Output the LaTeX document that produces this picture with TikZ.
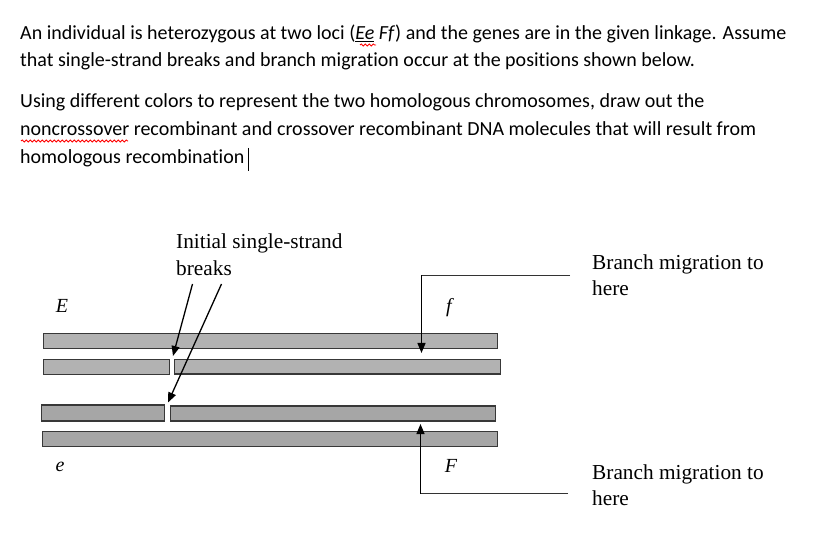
\documentclass[tikz,border=0pt]{standalone}
\usepackage{fontspec}
\setmainfont{Liberation Serif}
\newfontfamily\calib[Ligatures=NoCommon]{Carlito}
\usetikzlibrary{arrows.meta,decorations.pathmorphing}
\tikzset{
  bar/.style={draw=black!78, fill=black!30, line width=1.4pt},
  bardark/.style={draw=black!78, fill=black!35, line width=1.4pt},
  qtext/.style={anchor=base west, inner sep=0pt, font=\calib\fontsize{20}{24}\selectfont},
  stext/.style={anchor=base west, inner sep=0pt, font=\fontsize{21.3}{24}\selectfont},
  gene/.style={anchor=base, inner sep=0pt, font=\fontsize{20}{24}\selectfont\itshape},
  ptr/.style={line width=1.3pt, -{Triangle[length=10pt,width=8pt]}},
  leader/.style={line width=0.9pt, draw=black!80},
  wave/.style={draw=red, line width=0.8pt, decorate, decoration={snake, amplitude=1.1pt, segment length=4pt}}
}
\begin{document}
\begin{tikzpicture}[x=1pt,y=-1pt]
\useasboundingbox (0,0) rectangle (830,534);
% question text
\node[qtext] (q1) at (20,39.5) {An individual is heterozygous at two loci (\underline{\textit{Ee}} \textit{Ff}) and the genes are in the given linkage. Assume};
\node[qtext] (q2) at (20,67) {that single-strand breaks and branch migration occur at the positions shown below.};
\node[qtext] (q3) at (20,108) {Using different colors to represent the two homologous chromosomes, draw out the};
\node[qtext] (q4) at (20,136) {noncrossover recombinant and crossover recombinant DNA molecules that will result from};
\node[qtext] (q5) at (20,164) {homologous recombination};
\coordinate (w1a) at (21,141); \coordinate (w1b) at (128,141);
\draw[wave] (w1a) -- (w1b);
\coordinate (w2a) at (360,45); \coordinate (w2b) at (376,45);
\draw[wave] (w2a) -- (w2b);
\coordinate (cur1) at ([xshift=4pt]q5.base east);
\draw[line width=0.8pt] ([yshift=16pt]cur1) -- ([yshift=-7pt]cur1);
% bars
\node[bar, inner sep=0pt, minimum width=454pt, minimum height=15pt, anchor=north west] (b1) at (43,333) {};
\node[bar, inner sep=0pt, minimum width=126pt, minimum height=15pt, anchor=north west] (b2l) at (43,359) {};
\node[bar, inner sep=0pt, minimum width=326pt, minimum height=14.5pt, anchor=north west] (b2r) at (173.5,359) {};
\node[bardark, inner sep=0pt, minimum width=122.5pt, minimum height=16pt, anchor=north west] (b3l) at (41,404.5) {};
\node[bardark, inner sep=0pt, minimum width=325pt, minimum height=15pt, anchor=north west] (b3r) at (170,405.5) {};
\node[bardark, inner sep=0pt, minimum width=454.5pt, minimum height=15pt, anchor=north west] (b4) at (42,431) {};
% labels
\node[stext] (init1) at (176,249) {Initial single-strand};
\node[stext] (init2) at (176,276) {breaks};
\node[gene] (gE) at (62,313) {E};
\node[gene] (ge) at (60,471) {e};
\node[gene] (gf) at (449,313) {f};
\node[gene] (gF) at (451,472) {F};
\node[stext] (bm1) at (592,270) {Branch migration to};
\node[stext] (bm1b) at (592,296) {here};
\node[stext] (bm2) at (592,479) {Branch migration to};
\node[stext] (bm2b) at (592,505) {here};
% break arrows
\coordinate (a1s) at (192.5,284); \coordinate (a1e) at (173,356);
\coordinate (a2s) at (221.5,284); \coordinate (a2e) at (168,402.5);
\draw[ptr] (a1s) -- (a1e);
\draw[ptr] (a2s) -- (a2e);
% branch migration arrows
\coordinate (t0) at (570,275.5); \coordinate (t1) at (421.5,275.5); \coordinate (t2) at (421.5,353);
\draw[leader] (t0) -- (t1);
\draw[ptr] (t1) -- (t2);
\coordinate (u0) at (568,493.5); \coordinate (u1) at (420.5,493.5); \coordinate (u2) at (420.5,424);
\draw[leader] (u0) -- (u1);
\draw[ptr] (u1) -- (u2);
\end{tikzpicture}
\end{document}
